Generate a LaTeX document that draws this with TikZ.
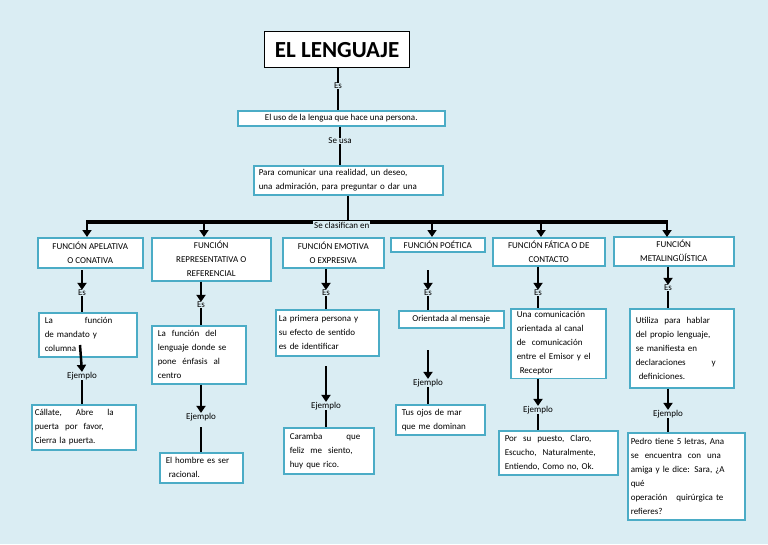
\documentclass[tikz,border=0pt]{standalone}
\usepackage{fontspec}
\setmainfont{Carlito}
\usetikzlibrary{arrows.meta}
\definecolor{bg}{HTML}{DAEDF3}
\definecolor{bd}{HTML}{4BACC6}
\begin{document}
\begin{tikzpicture}[x=1pt,y=-1pt,
  bx/.style={draw=bd,line width=1.5pt,fill=white,anchor=north west,inner sep=3pt,font=\fontsize{9}{14}\selectfont,align=left},
  hd/.style={bx,align=center},
  lb/.style={font=\fontsize{9}{10}\selectfont,inner sep=0pt},
  ar/.style={line width=2.5pt,-{Triangle[width=9pt,length=7pt]}},
  ln/.style={line width=2pt}]
\fill[bg] (0,0) rectangle (768,544);
\useasboundingbox (0,0) rectangle (768,544);
% top
\node[draw=black,line width=1.2pt,fill=white,anchor=north west,minimum width=145pt,minimum height=36pt,font=\bfseries\fontsize{23}{24}\selectfont] (t) at (264,31) {EL LENGUAJE};
\node[lb] (es0) at (338,86) {Es};
\node[hd,minimum width=207pt,minimum height=15pt,inner sep=1pt] (b2) at (237,110) {El uso de la lengua que hace una persona.};
\node[lb] (su) at (340,141) {Se usa};
\node[bx,text width=185pt,minimum height=29pt,inner sep=2pt] (b3) at (253,165) {\ Para comunicar una realidad, un deseo,\\ \ una admiración, para preguntar o dar una};
\draw[ln] (t.south -| es0) -- (es0.north);
\draw[ln] (es0.south) -- (b2.north -| es0);
\draw[ln] (b2.south -| su) -- (su.north);
\draw[ln] (su.south) -- (b3.north -| su);
\coordinate (bl) at (87,222); \coordinate (br) at (667,222);
\draw[ln] (b3.south -| 348,0) -- (348,222);
\draw[line width=4pt] (bl) -- (br);
\node[lb,anchor=west,fill=bg,inner sep=1pt] (sc) at (313,225) {Se clasifican en};
% headers
\node[hd,minimum width=105pt,minimum height=30pt,inner sep=2pt] (h1) at (37,237) {FUNCIÓN APELATIVA\\O CONATIVA};
\node[hd,minimum width=119pt,minimum height=43pt,inner sep=2pt] (h2) at (151,237) {FUNCIÓN\\REPRESENTATIVA O\\REFERENCIAL};
\node[hd,minimum width=101pt,minimum height=30pt,inner sep=2pt] (h3) at (282,237) {FUNCIÓN EMOTIVA\\O EXPRESIVA};
\node[hd,minimum width=94pt,minimum height=14pt,inner sep=1pt] (h4) at (390,237) {FUNCIÓN POÉTICA};
\node[hd,minimum width=112pt,minimum height=28pt,inner sep=2pt] (h5) at (492,237) {FUNCIÓN FÁTICA O DE\\CONTACTO};
\node[hd,minimum width=120pt,minimum height=29pt,inner sep=2pt] (h6) at (613,236) {FUNCIÓN\\METALINGÜÍSTICA};
\foreach \x in {87,204,432,541,667} \draw[ar] (\x,220) -- (\x,237);
% column boxes
\node[bx,text width=92pt,minimum height=44pt] (d1) at (38,312) {\ La \hspace{26pt} función\\\ de mandato y\\\ columna};
\node[bx,text width=98pt,minimum height=45pt] (e1) at (31,404) {Cállate,\hspace{14pt}Abre\hspace{14pt}la\\puerta \ por \ favor,\\Cierra la puerta.};
\node[bx,text width=88pt,minimum height=58pt] (d2) at (151,325) {\ La \ función \ del\\\ lenguaje donde se\\\ pone \ énfasis \ al\\\ centro};
\node[bx,text width=77pt,minimum height=30pt] (e2) at (159,452) {\ El hombre es ser\\ \ \ racional.};
\node[bx,text width=97pt,minimum height=46pt] (d3) at (275,309) {La primera persona y\\su efecto de sentido\\es de identificar};
\node[bx,text width=84pt,minimum height=46pt] (e3) at (283,427) {\ Caramba \hspace{18pt} que\\\ feliz \ me \ siento,\\\ huy que rico.};
\node[hd,minimum width=105pt,minimum height=17pt,inner sep=1pt] (d4) at (398,310) {Orientada al mensaje};
\node[bx,text width=83pt,minimum height=30pt] (e4) at (395,404) {\ Tus ojos de mar\\\ que me dominan};
\node[bx,text width=89pt,minimum height=69pt] (d5) at (510,308) {\ Una comunicación\\\ orientada al canal\\\ de \ comunicación\\\ entre el Emisor y el\\ \ \ Receptor};
\node[bx,text width=113pt,minimum height=44pt] (e5) at (498,430) {\ Por \ su \ puesto, \ Claro,\\\ Escucho, \ Naturalmente,\\\ Entiendo, Como no, Ok.};
\node[bx,text width=98pt,minimum height=79pt] (d6) at (629,308) {\ Utiliza \ para \ hablar\\\ del propio lenguaje,\\\ se manifiesta en\\\ declaraciones \hspace{20pt} y\\ \ \ definiciones.};
\node[bx,text width=111pt,minimum height=87pt] (e6) at (627,432) {Pedro tiene 5 letras, Ana\\se \ encuentra \ con \ una\\amiga y le dice: Sara, ¿A\\qué\\operación \ \ quirúrgica te\\refieres?};
% labels
\foreach \i/\x/\ey/\jy in {1/82/293/376,2/201/305/417,3/326/293/406,4/428/293/383,5/538/293/410,6/668/288/414}{
  \node[lb] (es\i) at (\x,\ey) {Es};
  \node[lb] (ej\i) at (\x,\jy) {Ejemplo};
}
% connectors
\draw[ar] (82,270) -- (es1.north); \draw[ln] (es1.south) -- (d1.north -| es1);
\draw[ar] (80,345) -- (ej1.north); \draw[ln] (ej1.south) -- (e1.north -| ej1);
\draw[ar] (h2.south -| es2) -- (es2.north); \draw[ln] (es2.south) -- (d2.north -| es2);
\draw[ar] (d2.south -| ej2) -- (ej2.north); \draw[ln] (201,427) -- (e2.north -| ej2);
\draw[ar] (h3.south -| es3) -- (es3.north); \draw[ln] (es3.south) -- (d3.north -| es3);
\draw[ar] (326,366) -- (ej3.north); \draw[ln] (ej3.south) -- (e3.north -| ej3);
\draw[ar] (428,270) -- (es4.north); \draw[ln] (es4.south) -- (d4.north -| es4);
\draw[ar] (428,350) -- (ej4.north); \draw[ln] (ej4.south) -- (e4.north -| ej4);
\draw[ar] (h5.south -| es5) -- (es5.north); \draw[ln] (es5.south) -- (d5.north -| es5);
\draw[ar] (d5.south -| ej5) -- (ej5.north); \draw[ln] (ej5.south) -- (e5.north -| ej5);
\draw[ar] (h6.south -| es6) -- (es6.north); \draw[ln] (es6.south) -- (d6.north -| es6);
\draw[ar] (d6.south -| ej6) -- (ej6.north); \draw[ln] (ej6.south) -- (e6.north -| ej6);
\end{tikzpicture}
\end{document}
